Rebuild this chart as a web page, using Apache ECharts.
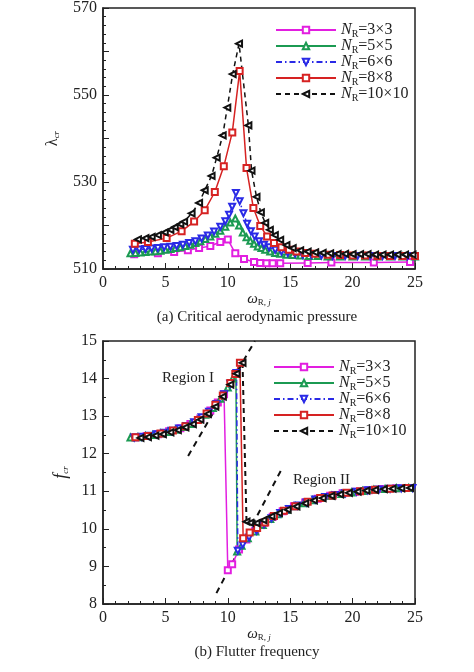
<!DOCTYPE html>
<html>
<head>
<meta charset="utf-8">
<script src="https://cdn.jsdelivr.net/npm/echarts@6/dist/echarts.min.js"></script>
<style>
  html, body { margin: 0; padding: 0; background: #fff; }
  #myChart { width: 474px; height: 672px; }
</style>
</head>
<body>
<div id="myChart"></div>
<script>
// series names (legend)
const names = ['3×3', '5×5', '6×6', '8×8', '10×10']

// (a) critical aerodynamic pressure: [omega, lambda_cr]
const lam3 = [[2.5,513.4],[4.4,513.6],[5.7,513.9],[6.8,514.3],[7.7,514.8],[8.6,515.3],[9.4,516.2],[10.0,516.8],[10.6,513.6],[11.3,512.3],[12.1,511.6],[12.6,511.4],[13.1,511.3],[13.6,511.3],[14.2,511.3],[16.4,511.4],[18.3,511.5],[21.7,511.5],[24.6,511.6]]
const lam5 = [[2.2,513.6],[2.6,513.7],[3.0,513.8],[3.4,513.9],[3.8,514.0],[4.2,514.1],[4.6,514.2],[5.0,514.4],[5.4,514.6],[5.8,514.8],[6.2,515.0],[6.6,515.3],[7.0,515.6],[7.4,516.0],[7.8,516.4],[8.2,516.9],[8.6,517.5],[9.0,518.1],[9.4,518.8],[9.8,519.7],[10.2,520.7],[10.6,521.6],[10.9,520.0],[11.2,518.4],[11.5,517.3],[11.8,516.5],[12.1,515.8],[12.4,515.2],[12.7,514.8],[13.0,514.4],[13.4,514.0],[13.8,513.7],[14.2,513.5],[14.7,513.3],[15.2,513.2],[15.8,513.1],[16.5,513.0],[17.2,513.0],[18.0,512.9],[19.0,512.9],[20.0,512.9],[21.0,512.9],[22.0,512.9],[23.0,512.9],[24.0,512.9],[25.0,512.9]]
const lam6 = [[2.4,514.4],[2.9,514.5],[3.4,514.6],[3.9,514.7],[4.4,514.8],[4.9,515.0],[5.4,515.1],[5.9,515.3],[6.4,515.6],[6.9,516.0],[7.4,516.4],[7.9,517.0],[8.4,517.7],[8.9,518.6],[9.4,519.7],[9.8,521.0],[10.1,522.5],[10.35,524.3],[10.65,527.5],[10.95,525.6],[11.25,522.8],[11.55,520.4],[11.85,518.7],[12.15,517.5],[12.5,516.4],[12.9,515.6],[13.3,515.0],[13.8,514.4],[14.3,514.0],[14.8,513.7],[15.4,513.5],[16.0,513.3],[16.7,513.2],[17.5,513.1],[18.4,513.0],[19.4,513.0],[20.4,513.0],[21.4,513.0],[22.4,513.0],[23.4,513.0],[24.4,513.0]]
const lam8 = [[2.55,515.8],[3.6,516.2],[5.1,517.1],[6.3,518.7],[7.3,520.9],[8.15,523.5],[8.96,527.7],[9.68,533.6],[10.36,541.4],[10.95,555.5],[11.5,533.2],[12.05,524.0],[12.6,519.9],[13.15,517.5],[13.7,516.0],[14.3,515.0],[14.9,514.4],[15.5,514.0],[16.2,513.7],[17.0,513.5],[18.0,513.3],[19.0,513.2],[20.0,513.1],[21.0,513.1],[22.0,513.0],[23.0,513.0],[24.0,513.0],[25.0,513.0]]
const lam10 = [[2.8,516.8],[3.4,517.1],[3.9,517.4],[4.4,517.8],[4.95,518.4],[5.4,519.0],[5.75,519.6],[6.2,520.3],[6.5,520.9],[7.1,522.8],[7.7,525.2],[8.15,528.1],[8.7,531.4],[9.11,535.6],[9.59,540.7],[9.96,547.1],[10.39,554.8],[10.9,561.8],[11.65,543.0],[11.9,532.6],[12.3,526.6],[12.65,523.0],[13.0,520.6],[13.37,519.0],[13.77,517.8],[14.2,516.7],[14.7,515.5],[15.2,514.8],[15.8,514.3],[16.4,514.0],[17.0,513.8],[17.6,513.7],[18.2,513.6],[18.8,513.5],[19.4,513.5],[20.0,513.4],[20.6,513.4],[21.2,513.4],[21.8,513.3],[22.4,513.3],[23.0,513.3],[23.6,513.3],[24.2,513.3],[24.8,513.3]]

// (b) flutter frequency: [omega, f_cr]
const f3 = [[2.6,12.43],[3.5,12.47],[4.4,12.52],[5.3,12.6],[6.2,12.68],[7.0,12.79],[7.8,12.94],[8.6,13.15],[9.2,13.36],[9.7,13.58],[10.0,8.9],[10.35,9.06],[10.9,9.45],[11.5,9.72],[12.2,9.95],[12.9,10.16],[13.6,10.32],[14.4,10.47],[15.3,10.6],[16.2,10.7],[17.2,10.8],[18.2,10.88],[19.2,10.95],[20.2,10.99],[21.3,11.03],[22.4,11.06],[23.5,11.08],[24.6,11.09]]
const f5 = [[2.2,12.43],[2.8,12.44],[3.4,12.47],[4.0,12.5],[4.6,12.54],[5.2,12.58],[5.8,12.64],[6.4,12.71],[7.0,12.79],[7.6,12.9],[8.2,13.04],[8.8,13.22],[9.4,13.46],[10.0,13.76],[10.4,14.0],[10.65,14.12],[10.75,9.4],[11.1,9.55],[11.6,9.75],[12.2,9.93],[12.8,10.1],[13.4,10.26],[14.0,10.39],[14.7,10.5],[15.4,10.6],[16.1,10.68],[16.8,10.76],[17.5,10.82],[18.3,10.88],[19.1,10.93],[19.9,10.97],[20.8,11.01],[21.7,11.04],[22.6,11.06],[23.5,11.08],[24.5,11.09]]
const f6 = [[2.5,12.43],[3.1,12.45],[3.7,12.48],[4.3,12.52],[4.9,12.56],[5.5,12.61],[6.1,12.67],[6.7,12.74],[7.3,12.84],[7.9,12.97],[8.5,13.12],[9.1,13.32],[9.7,13.58],[10.2,13.86],[10.7,14.15],[10.8,9.42],[11.2,9.58],[11.7,9.77],[12.3,9.95],[12.9,10.12],[13.5,10.28],[14.2,10.42],[14.9,10.53],[15.6,10.62],[16.3,10.7],[17.0,10.78],[17.8,10.85],[18.6,10.9],[19.4,10.95],[20.3,10.99],[21.2,11.03],[22.1,11.05],[23.0,11.07],[23.9,11.08],[24.8,11.09]]
const f8 = [[2.6,12.44],[3.6,12.47],[4.6,12.54],[5.6,12.62],[6.6,12.73],[7.6,12.9],[8.3,13.07],[9.0,13.3],[9.6,13.55],[10.2,13.88],[10.6,14.12],[10.97,14.42],[11.23,9.75],[11.75,9.9],[12.35,10.02],[13.0,10.17],[13.7,10.34],[14.5,10.48],[15.4,10.6],[16.4,10.72],[17.4,10.82],[18.4,10.89],[19.5,10.96],[20.6,11.0],[21.8,11.04],[23.0,11.07],[24.3,11.09]]
const f10 = [[3.0,12.42],[3.6,12.44],[4.2,12.48],[4.8,12.52],[5.4,12.57],[6.0,12.63],[6.6,12.7],[7.2,12.79],[7.8,12.91],[8.4,13.06],[9.0,13.25],[9.6,13.52],[10.2,13.84],[10.7,14.13],[11.18,14.42],[11.5,10.19],[11.8,10.16],[12.3,10.15],[12.85,10.23],[13.5,10.33],[14.1,10.42],[14.8,10.51],[15.5,10.6],[16.2,10.68],[16.9,10.76],[17.6,10.82],[18.3,10.88],[19.0,10.92],[19.7,10.96],[20.4,10.99],[21.1,11.02],[21.8,11.04],[22.5,11.06],[23.2,11.07],[23.9,11.08],[24.6,11.09]]

// dashed guide lines of region I and region II
const guide1 = [[6.82,11.94],[12.17,15.0]]
const guide2 = [[9.09,8.29],[14.3,11.58]]

const serif = 'Liberation Serif'

// subscript: small lineHeight + bottom align pushes the token down
const legendRich = {
  i: {fontFamily: serif, fontStyle: 'italic', fontSize: 16, color: '#222', lineHeight: 18},
  s: {fontFamily: serif, fontSize: 10, color: '#222', verticalAlign: 'bottom', lineHeight: 4},
  n: {fontFamily: serif, fontSize: 16, color: '#222', lineHeight: 18}
}

function legendFmt(name) {
  return '{i|N}{s|R}{n|=' + name + '}'
}

function xAxisOf(gridIndex) {
  return {
    type: 'value', gridIndex: gridIndex, min: 0, max: 25, interval: 5,
    name: '{w|ω}{s|R, }{j|j}', nameLocation: 'middle', nameGap: 20,
    nameTextStyle: {
      rich: {
        w: {fontFamily: serif, fontStyle: 'italic', fontSize: 15, color: '#222', lineHeight: 16},
        s: {fontFamily: serif, fontSize: 9, color: '#222', verticalAlign: 'bottom', lineHeight: 2},
        j: {fontFamily: serif, fontStyle: 'italic', fontSize: 9, color: '#222', verticalAlign: 'bottom', lineHeight: 2}
      }
    },
    axisLine: {lineStyle: {color: '#222', width: 1.5}},
    axisTick: {inside: true, length: 6, lineStyle: {color: '#222'}},
    minorTick: {show: true, splitNumber: 5, length: 3, lineStyle: {color: '#222'}},
    axisLabel: {fontFamily: serif, fontSize: 16, color: '#222', margin: 6},
    splitLine: {show: false}
  }
}

function yAxisOf(gridIndex, cfg) {
  return Object.assign({
    type: 'value', gridIndex: gridIndex,
    nameLocation: 'middle', nameRotate: 90,
    axisLine: {lineStyle: {color: '#222', width: 1.5}},
    axisTick: {inside: true, length: 6, lineStyle: {color: '#222'}},
    minorTick: {show: true, length: 3, lineStyle: {color: '#222'}},
    axisLabel: {fontFamily: serif, fontSize: 16, color: '#222', margin: 6},
    splitLine: {show: false}
  }, cfg)
}

const styles = [
  {color: '#e21ee0', symbol: 'emptyRect', rotate: 0, type: 'solid'},
  {color: '#1b9a52', symbol: 'emptyTriangle', rotate: 0, type: 'solid'},
  {color: '#2a2ae6', symbol: 'emptyTriangle', rotate: 180, type: [6, 3, 1.5, 3]},
  {color: '#d62222', symbol: 'emptyRect', rotate: 0, type: 'solid'},
  {color: '#111111', symbol: 'emptyTriangle', rotate: 90, type: [5, 4]}
]

function makeSeries(dataList, gridIndex, dashWidth) {
  return dataList.map((d, k) => ({
    name: names[k],
    type: 'line',
    xAxisIndex: gridIndex, yAxisIndex: gridIndex,
    data: d,
    symbol: styles[k].symbol,
    symbolRotate: styles[k].rotate,
    symbolSize: 6,
    itemStyle: {color: styles[k].color, borderWidth: 1.1},
    lineStyle: {color: styles[k].color, width: k === 4 ? dashWidth : 1.5, type: styles[k].type},
    animation: false
  }))
}

function guideSeries(d) {
  return {
    type: 'line', xAxisIndex: 1, yAxisIndex: 1, data: d, symbol: 'none', silent: true,
    lineStyle: {color: '#111', width: 2, type: [6, 5]}, animation: false
  }
}

function echartsInit() {
  let myChart = echarts.init(document.getElementById('myChart'))
  myChart.setOption({
    backgroundColor: '#fff',
    grid: [
      {left: 103, top: 6, width: 312, height: 263, show: true, borderColor: '#222', borderWidth: 1.5},
      {left: 103, top: 341, width: 312, height: 263, show: true, borderColor: '#222', borderWidth: 1.5}
    ],
    legend: [
      {
        data: names, orient: 'vertical', left: 270, top: 17, itemWidth: 60, itemHeight: 8, itemGap: -1,
        formatter: legendFmt, textStyle: {rich: legendRich}
      },
      {
        data: names, orient: 'vertical', left: 268, top: 354, itemWidth: 60, itemHeight: 8, itemGap: -1,
        formatter: legendFmt, textStyle: {rich: legendRich}
      }
    ],
    xAxis: [xAxisOf(0), xAxisOf(1)],
    yAxis: [
      yAxisOf(0, {
        min: 510, max: 570, interval: 10, minorTick: {show: true, splitNumber: 5, length: 3, lineStyle: {color: '#222'}},
        axisLabel: {fontFamily: serif, fontSize: 16, color: '#222', margin: 6,
          formatter: v => ((v - 510) % 20 === 0 ? String(v) : '')},
        name: '{l|λ}{s|cr}', nameGap: 42,
        nameTextStyle: {rich: {
          l: {fontFamily: serif, fontSize: 16, color: '#222', lineHeight: 16},
          s: {fontFamily: serif, fontStyle: 'italic', fontSize: 9, color: '#222', verticalAlign: 'bottom', lineHeight: 2}
        }}
      }),
      yAxisOf(1, {
        min: 8, max: 15, interval: 1, minorTick: {show: true, splitNumber: 2, length: 3, lineStyle: {color: '#222'}},
        name: '{l|f}{s|cr}', nameGap: 32,
        nameTextStyle: {rich: {
          l: {fontFamily: serif, fontStyle: 'italic', fontSize: 18, color: '#222', lineHeight: 18},
          s: {fontFamily: serif, fontStyle: 'italic', fontSize: 9, color: '#222', verticalAlign: 'bottom', lineHeight: 2}
        }}
      })
    ],
    graphic: [
      {type: 'text', x: 257, y: 317, style: {text: '(a) Critical aerodynamic pressure', font: '15px "Liberation Serif"', fill: '#222', align: 'center', verticalAlign: 'middle'}},
      {type: 'text', x: 257, y: 652, style: {text: '(b) Flutter frequency', font: '15px "Liberation Serif"', fill: '#222', align: 'center', verticalAlign: 'middle'}},
      {type: 'text', x: 162, y: 378, style: {text: 'Region I', font: '15px "Liberation Serif"', fill: '#222', verticalAlign: 'middle'}},
      {type: 'text', x: 293, y: 480, style: {text: 'Region II', font: '15px "Liberation Serif"', fill: '#222', verticalAlign: 'middle'}}
    ],
    series: [
      guideSeries(guide1),
      guideSeries(guide2)
    ].concat(
      makeSeries([lam3, lam5, lam6, lam8, lam10], 0, 1.5),
      makeSeries([f3, f5, f6, f8, f10], 1, 2)
    )
  })
}

echartsInit()
</script>
</body>
</html>
